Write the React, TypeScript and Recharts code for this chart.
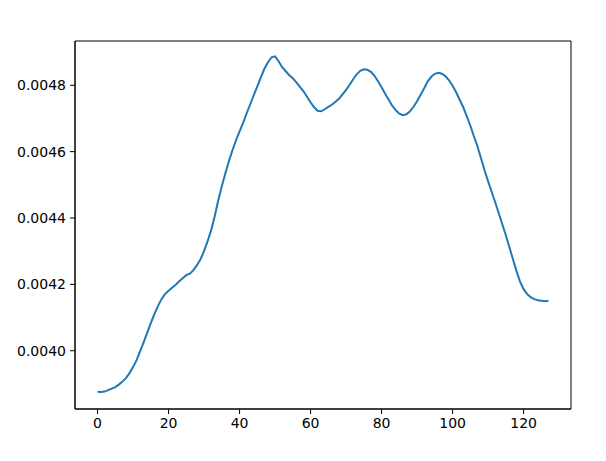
import React from "react";
import {
  LineChart,
  Line,
  XAxis,
  YAxis,
  ReferenceArea,
} from "recharts";

// values, one per index 0..127
const values: number[] = [
  0.0038762, 0.0038753, 0.0038768, 0.0038813, 0.0038859, 0.0038904, 0.0038979, 0.0039069,
  0.0039175, 0.0039325, 0.0039506, 0.0039717, 0.0039988, 0.0040259, 0.0040545, 0.0040831,
  0.0041103, 0.0041343, 0.0041554, 0.0041705, 0.004181, 0.0041901, 0.0041991, 0.0042096,
  0.0042187, 0.0042277, 0.0042322, 0.0042428, 0.0042578, 0.0042759, 0.0043, 0.0043301,
  0.0043633, 0.0044054, 0.0044536, 0.0044958, 0.0045349, 0.0045711, 0.0046042, 0.0046343,
  0.0046614, 0.004687, 0.0047157, 0.0047428, 0.0047699, 0.004797, 0.0048241, 0.0048497,
  0.0048693, 0.0048843, 0.0048873, 0.0048723, 0.0048542, 0.0048422, 0.0048301, 0.0048211,
  0.004809, 0.0047955, 0.0047819, 0.0047654, 0.0047488, 0.0047337, 0.0047232, 0.0047217,
  0.0047277, 0.0047352, 0.0047413, 0.0047503, 0.0047593, 0.0047729, 0.0047864, 0.0048015,
  0.0048181, 0.0048331, 0.0048437, 0.0048482, 0.0048467, 0.0048407, 0.0048286, 0.004812,
  0.004794, 0.0047744, 0.0047563, 0.0047383, 0.0047247, 0.0047142, 0.0047096, 0.0047127,
  0.0047217, 0.0047352, 0.0047518, 0.0047714, 0.004791, 0.004812, 0.0048256, 0.0048346,
  0.0048377, 0.0048346, 0.0048271, 0.0048151, 0.0047985, 0.0047789, 0.0047563, 0.0047337,
  0.0047066, 0.004678, 0.0046464, 0.0046163, 0.0045801, 0.004544, 0.0045108, 0.0044792,
  0.0044476, 0.0044145, 0.0043813, 0.0043482, 0.0043121, 0.0042759, 0.0042398, 0.0042081,
  0.0041856, 0.0041705, 0.0041615, 0.0041554, 0.0041524, 0.0041509, 0.0041494, 0.0041509,
];

const xTicks = [0, 20, 40, 60, 80, 100, 120];
const yTicks = [0.004, 0.0042, 0.0044, 0.0046, 0.0048];

const X_DOMAIN: [number, number] = [-6.35, 133.35];
const Y_DOMAIN: [number, number] = [0.0038244, 0.0049334];

const TICK = { fontSize: 14, fill: "#000", fontFamily: "DejaVu Sans" };

export default function App() {
  const data = values.map((v, i) => ({ x: i, v }));

  return (
    <div style={{ position: "fixed", left: 0, top: 0, background: "#fff" }}>
      <LineChart
        width={606}
        height={461}
        data={data}
        margin={{ top: 41, right: 35, bottom: 0, left: 0 }}
      >
        <XAxis
          dataKey="x"
          type="number"
          domain={X_DOMAIN}
          allowDataOverflow
          ticks={xTicks}
          tick={TICK}
          tickSize={5}
          tickMargin={4}
          height={52}
          stroke="#000"
        />
        <YAxis
          type="number"
          domain={Y_DOMAIN}
          allowDataOverflow
          ticks={yTicks}
          tick={TICK}
          tickFormatter={(t: number) => t.toFixed(4)}
          tickSize={5}
          tickMargin={4}
          width={75}
          stroke="#000"
        />
        <ReferenceArea
          x1={X_DOMAIN[0]}
          x2={X_DOMAIN[1]}
          y1={Y_DOMAIN[0]}
          y2={Y_DOMAIN[1]}
          fill="none"
          stroke="#000"
          strokeWidth={1}
          ifOverflow="visible"
        />
        <Line
          dataKey="v"
          stroke="#1f77b4"
          strokeWidth={2}
          dot={false}
          type="linear"
          isAnimationActive={false}
        />
      </LineChart>
    </div>
  );
}
